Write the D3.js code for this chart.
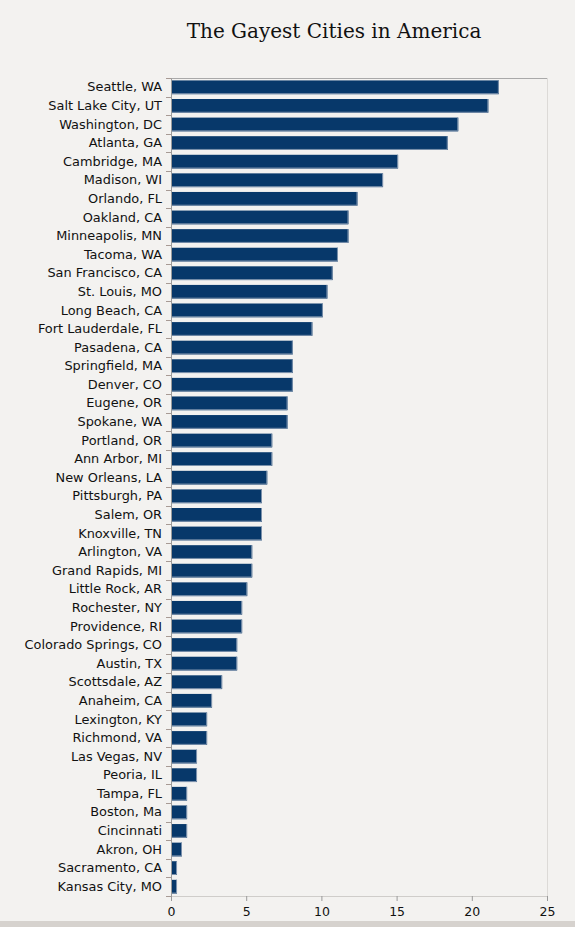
<!DOCTYPE html>
<html>
<head>
<meta charset="utf-8">
<script src="https://cdn.jsdelivr.net/npm/d3@7"></script>
<style>
  html, body { margin: 0; padding: 0; background: #f3f2f0; }
  svg { display: block; }
</style>
</head>
<body>
<div class="bar-chart"></div>
<script>
// ---- data
var cities = [
  "Seattle, WA", "Salt Lake City, UT", "Washington, DC", "Atlanta, GA",
  "Cambridge, MA", "Madison, WI", "Orlando, FL", "Oakland, CA",
  "Minneapolis, MN", "Tacoma, WA", "San Francisco, CA", "St. Louis, MO",
  "Long Beach, CA", "Fort Lauderdale, FL", "Pasadena, CA", "Springfield, MA",
  "Denver, CO", "Eugene, OR", "Spokane, WA", "Portland, OR",
  "Ann Arbor, MI", "New Orleans, LA", "Pittsburgh, PA", "Salem, OR",
  "Knoxville, TN", "Arlington, VA", "Grand Rapids, MI", "Little Rock, AR",
  "Rochester, NY", "Providence, RI", "Colorado Springs, CO", "Austin, TX",
  "Scottsdale, AZ", "Anaheim, CA", "Lexington, KY", "Richmond, VA",
  "Las Vegas, NV", "Peoria, IL", "Tampa, FL", "Boston, Ma",
  "Cincinnati", "Akron, OH", "Sacramento, CA", "Kansas City, MO"
];
var scores = [
  21.8, 21.1, 19.1, 18.4,
  15.1, 14.1, 12.4, 11.8,
  11.8, 11.1, 10.75, 10.4,
  10.1, 9.4, 8.1, 8.1,
  8.1, 7.75, 7.75, 6.73,
  6.73, 6.4, 6.05, 6.05,
  6.05, 5.4, 5.4, 5.07,
  4.73, 4.73, 4.4, 4.4,
  3.4, 2.73, 2.4, 2.4,
  1.73, 1.73, 1.07, 1.07,
  1.07, 0.73, 0.4, 0.4
];
var xTicks = [0, 5, 10, 15, 20, 25];
var title = "The Gayest Cities in America";

var data_array = cities.map(function(c, i) { return [c, scores[i]]; });

// ---- dimensions
var W = 575, H = 927;
var margin = {top: 78, right: 28, bottom: 31, left: 171},
    width = W - margin.left - margin.right,
    height = H - margin.top - margin.bottom;

var svg0 = d3.select(".bar-chart")
  .append("svg")
    .attr("width", W)
    .attr("height", H);

svg0.append("rect")
  .attr("width", W).attr("height", H)
  .attr("fill", "#f3f2f0");

// grey strip at the very bottom of the screenshot
svg0.append("rect")
  .attr("x", 0).attr("y", 921)
  .attr("width", W).attr("height", 6)
  .attr("fill", "#d6d2ce");

// title
svg0.append("text")
  .attr("x", 334)
  .attr("y", 38)
  .attr("text-anchor", "middle")
  .style("font-family", "'DejaVu Serif', Georgia, serif")
  .style("font-size", "20px")
  .style("fill", "#111")
  .text(title);

var svg = svg0.append("g")
  .attr("transform", "translate(" + margin.left + "," + margin.top + ")");

// ---- scales
var x = d3.scaleLinear()
  .domain([0, 25])
  .range([0, width]);

var y = d3.scaleBand()
  .domain(cities)
  .range([0, height])
  .paddingInner(0.26)
  .paddingOuter(0.13);

// plot frame (top + right)
svg.append("line")
  .attr("x1", 0).attr("x2", width)
  .attr("y1", 0.5).attr("y2", 0.5)
  .attr("stroke", "#a9a9a9");
svg.append("line")
  .attr("x1", width + 0.5).attr("x2", width + 0.5)
  .attr("y1", 0).attr("y2", height)
  .attr("stroke", "#dcdad7");

// ---- bars
var bars = svg.selectAll(".bars")
  .data(data_array)
  .enter()
  .append("g")
    .attr("class", "bars");

bars.append("rect")
  .attr("x", x(0) + 1)
  .attr("y", function(d) { return y(d[0]); })
  .attr("width", function(d) { return x(d[1]) - x(0) - 1; })
  .attr("height", y.bandwidth())
  .attr("fill", "#07386a");

// lighter right/bottom edge
bars.append("path")
  .attr("d", function(d) {
    var x1 = x(d[1]) - 0.5, y0 = y(d[0]), y1 = y0 + y.bandwidth() - 0.5;
    return "M" + (x(0) + 1) + "," + y1 + "H" + x1 + "V" + y0;
  })
  .attr("fill", "none")
  .attr("stroke", "#7d93ad")
  .attr("stroke-width", 1);

// ---- Y axis
var yAxis = svg.append("g")
  .call(d3.axisLeft(y).tickSize(0).tickPadding(9));
yAxis.select(".domain").attr("stroke", "#9a9a9a");
yAxis.selectAll("text")
  .style("font-family", "'DejaVu Sans', Verdana, sans-serif")
  .style("font-size", "12.9px")
  .style("fill", "#111");

// tick marks between categories
var bounds = cities.map(function(c) { return y(c) - y.step() * y.paddingInner() / 2; });
bounds.push(height);
svg.selectAll(".ytick")
  .data(bounds)
  .enter()
  .append("line")
    .attr("class", "ytick")
    .attr("x1", -5).attr("x2", 0)
    .attr("y1", function(d) { return Math.round(d) + 0.5; })
    .attr("y2", function(d) { return Math.round(d) + 0.5; })
    .attr("stroke", "#a79a94");

// ---- X axis
var xAxis = svg.append("g")
  .attr("transform", "translate(0," + height + ")")
  .call(d3.axisBottom(x).tickValues(xTicks).tickSize(5).tickPadding(6).tickSizeOuter(0));
xAxis.select(".domain").attr("stroke", "#cfcdca");
xAxis.selectAll("line").attr("stroke", "#9a9a9a");
xAxis.selectAll("text")
  .style("font-family", "'DejaVu Sans', Verdana, sans-serif")
  .style("font-size", "12.5px")
  .style("fill", "#111");
</script>
</body>
</html>
